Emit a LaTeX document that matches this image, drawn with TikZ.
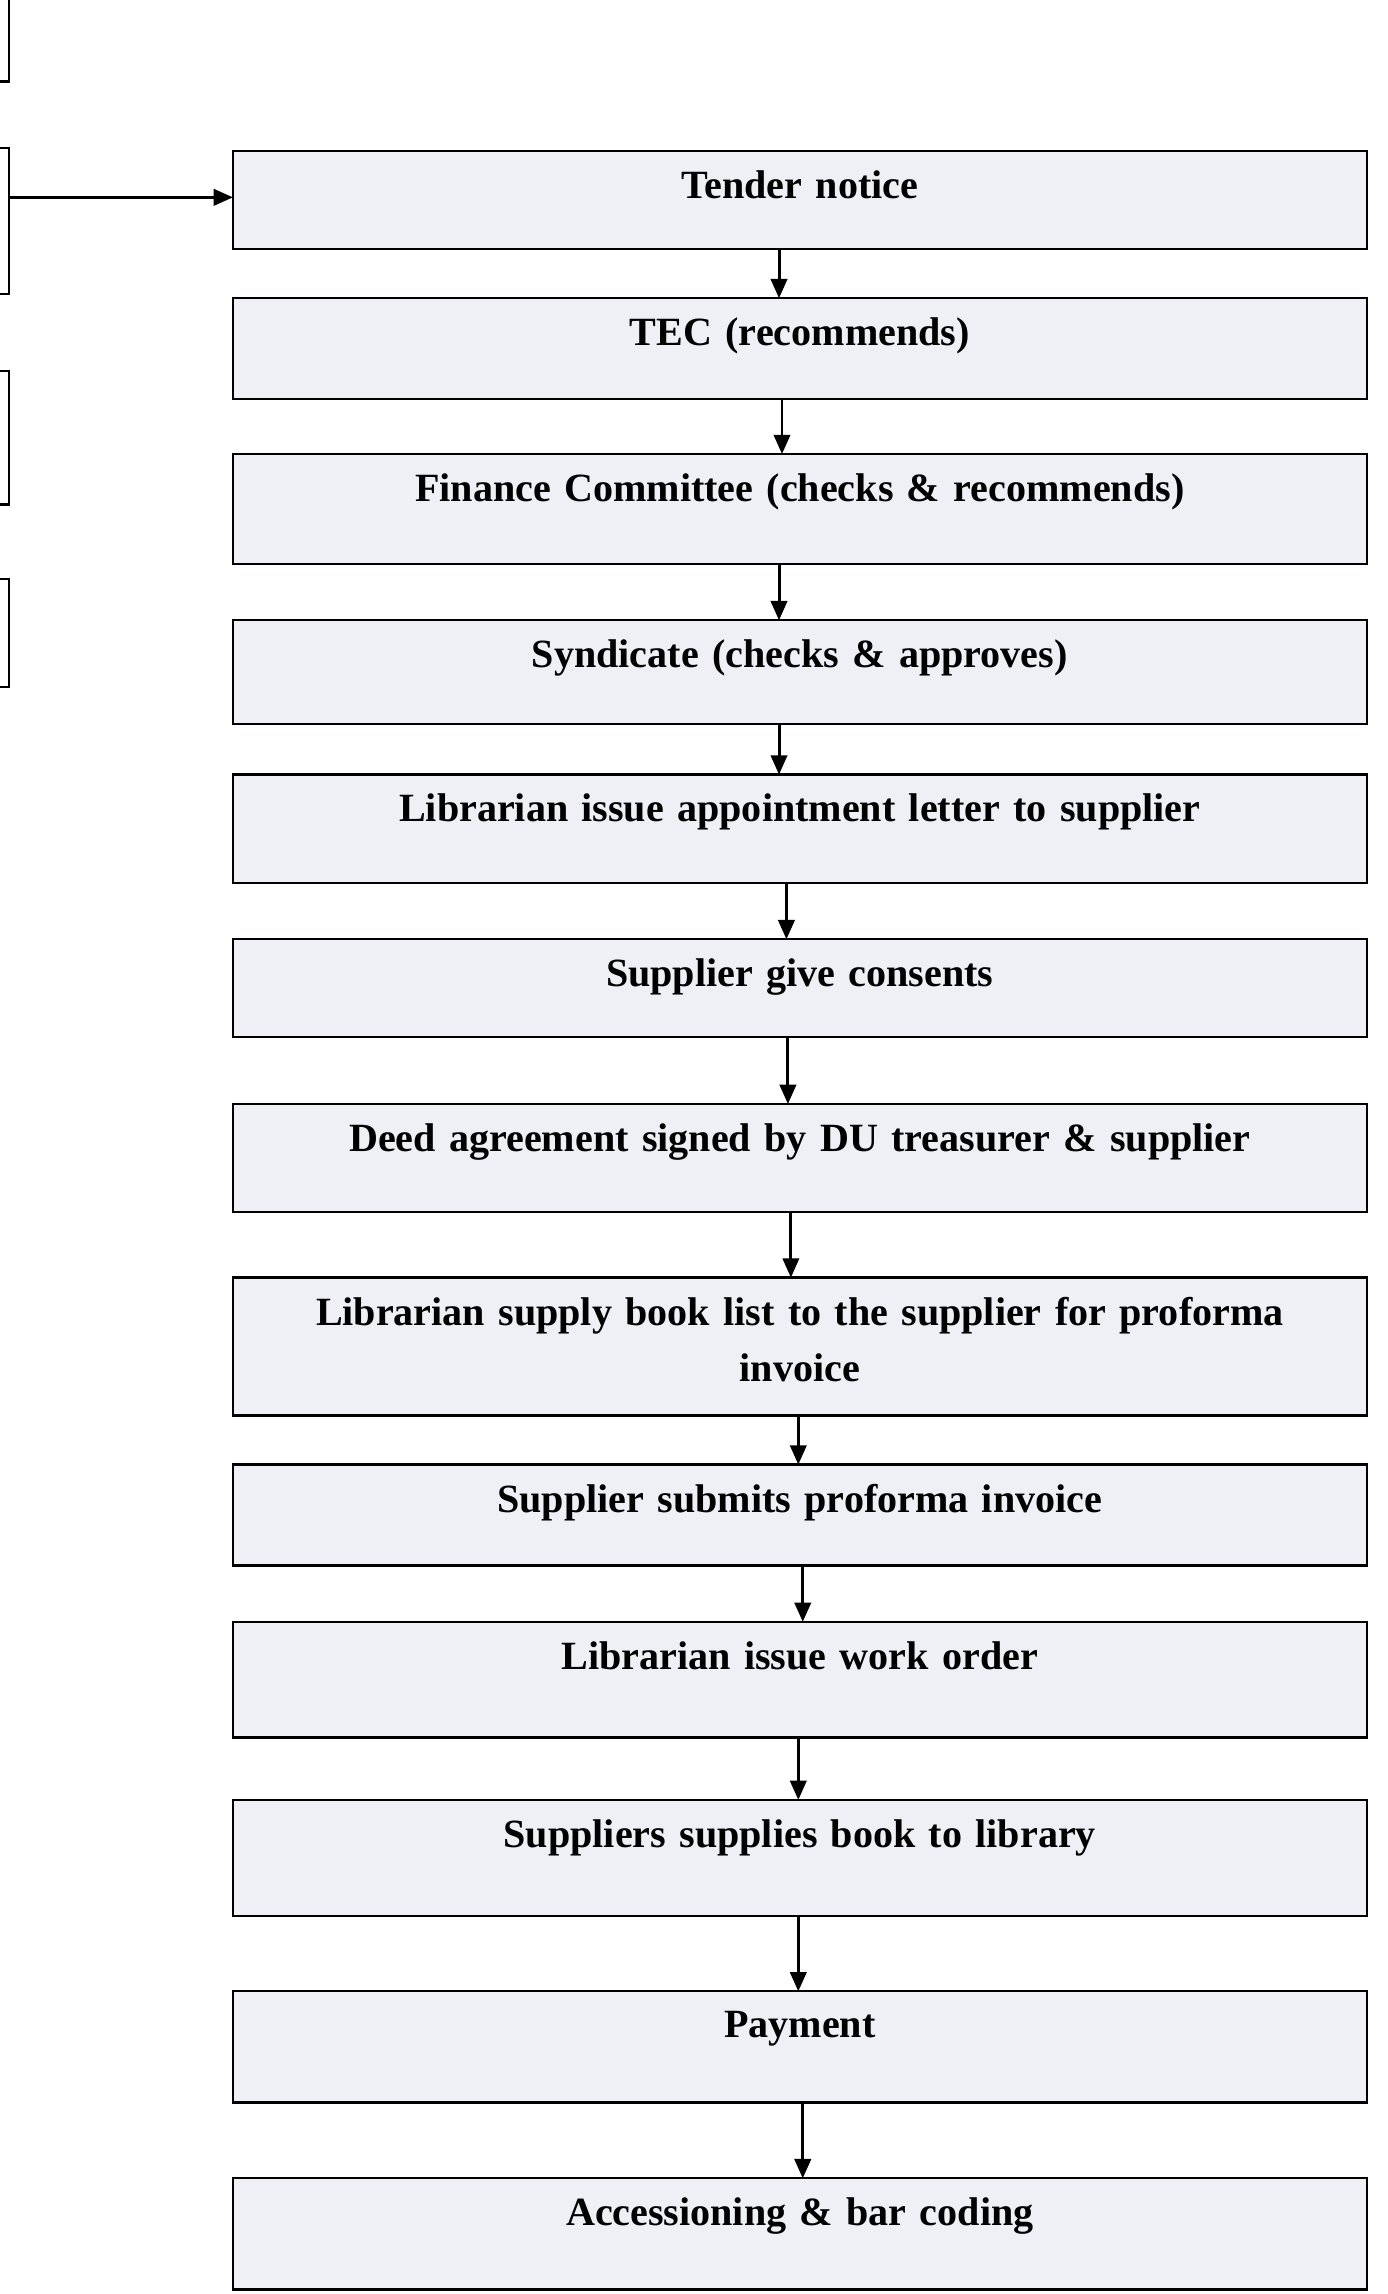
\documentclass[tikz,border=0pt]{standalone}
\usepackage{fontspec}
\setmainfont{Liberation Serif}
\usetikzlibrary{arrows.meta}
\begin{document}
\begin{tikzpicture}[x=1pt,y=-1pt,
  box/.style={draw=black,line width=1.5pt,fill=boxfill},
  lbl/.style={font=\bfseries\fontsize{27}{38}\selectfont,align=center,text width=740pt,inner sep=0pt},
  arr/.style={-{Triangle[length=13pt,width=11pt]},line width=2pt}]
\definecolor{boxfill}{HTML}{EEF0F5}
\useasboundingbox (0,0) rectangle (935,1546);
\clip (0,0) rectangle (935,1546);
\fill[white] (0,0) rectangle (935,1546);
% partial left boxes
\draw[line width=1.5pt] (-20,-5) rectangle (6,55);
\draw[line width=1.5pt] (-20,100) rectangle (6,198);
\draw[line width=1.5pt] (-20,250) rectangle (6,340);
\draw[line width=1.5pt] (-20,390) rectangle (6,463);
\coordinate (src) at (6,133);
\def\rows{102/168/{Tender notice}/1,201/269/{TEC (recommends)}/2,306/380/{Finance Committee (checks \& recommends)}/3,418/488/{Syndicate (checks \& approves)}/4,522/595/{Librarian issue appointment letter to supplier}/5,633/699/{Supplier give consents}/6,744/817/{Deed agreement signed by DU treasurer \& supplier}/7,861/954/{Librarian supply book list to the supplier for proforma\\invoice}/8,987/1055/{Supplier submits proforma invoice}/9,1093/1171/{Librarian issue work order}/10,1213/1291/{Suppliers supplies book to library}/11,1342/1417/{Payment}/12,1468/1543/{Accessioning \& bar coding}/13}
\foreach \t/\b/\txt/\n in \rows {
  \draw[box] (157,\t) rectangle (921,\b);
  \coordinate (b\n) at (539,\t);
  \node[lbl,anchor=north] (l\n) at (539,\t+13) {\txt};
}
\foreach \t/\b/\txt/\n in \rows {\coordinate (s\n) at (539,\b);}
\draw[arr] (src) -- (157,133);
\foreach \i/\j/\dx in {1/2/-14,2/3/-12,3/4/-14,4/5/-14,5/6/-9,6/7/-8,7/8/-6,8/9/-1,9/10/2,10/11/-1,11/12/-1,12/13/2}
  \draw[arr] ([xshift=\dx pt]s\i) -- ([xshift=\dx pt]b\j);
\end{tikzpicture}
\end{document}
